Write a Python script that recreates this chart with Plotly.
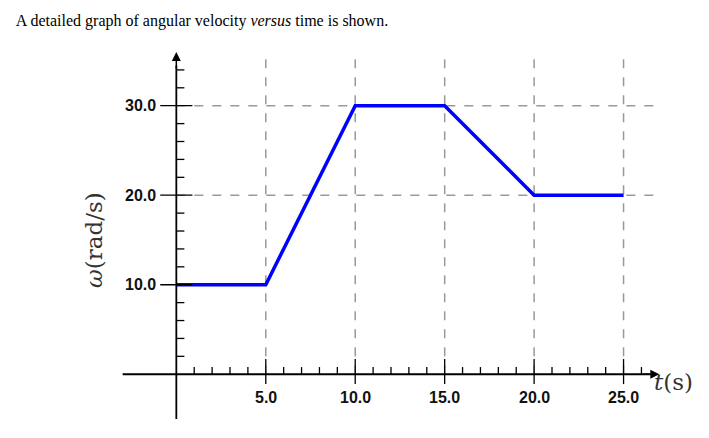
import plotly.graph_objects as go

# data
t = [0, 5, 10, 15, 20, 25]
w = [10, 10, 30, 30, 20, 20]
x_labels = [5, 10, 15, 20, 25]
y_labels = [10, 20, 30]

fig = go.Figure()
fig.add_trace(go.Scatter(x=t, y=w, mode='lines', line=dict(color='#0000ff', width=3.5),
                         showlegend=False, hoverinfo='skip'))

shapes = []
grey = dict(color='#999999', width=1.5, dash='dash')
for xv in x_labels:
    shapes.append(dict(type='line', x0=xv, x1=xv, y0=0, y1=36, line=grey, layer='below'))
for yv in [20, 30]:
    shapes.append(dict(type='line', x0=0, x1=27, y0=yv, y1=yv, line=grey, layer='below'))

blk = dict(color='black', width=1.3)
# x ticks
for i in range(1, 27):
    big = i % 5 == 0
    shapes.append(dict(type='line', x0=i, x1=i, y0=-1.1 if big else 0, y1=1.7 if big else 0.8, line=blk))
# y ticks
for j in range(2, 35, 2):
    big = j % 10 == 0
    shapes.append(dict(type='line', y0=j, y1=j, x0=-0.9 if big else 0, x1=0.9 if big else 0.45, line=blk))
# axes
shapes.append(dict(type='line', x0=-3, x1=26.5, y0=0, y1=0, line=dict(color='black', width=1.8)))
shapes.append(dict(type='line', x0=0, x1=0, y0=-5, y1=34.5, line=dict(color='black', width=1.8)))

ann = []
ann.append(dict(x=27, y=0, ax=26, ay=0, xref='x', yref='y', axref='x', ayref='y', text='',
                showarrow=True, arrowhead=2, arrowsize=1.2, arrowwidth=1.5, arrowcolor='black'))
ann.append(dict(x=0, y=36, ax=0, ay=34, xref='x', yref='y', axref='x', ayref='y', text='',
                showarrow=True, arrowhead=2, arrowsize=1.2, arrowwidth=1.5, arrowcolor='black'))
for xv in x_labels:
    ann.append(dict(x=xv, y=-1.4, text='<b>%.1f</b>' % xv, showarrow=False, yanchor='top',
                    font=dict(family='Liberation Sans', size=16, color='#111')))
for yv in y_labels:
    ann.append(dict(x=-1.0, y=yv, text='<b>%.1f</b>' % yv, showarrow=False, xanchor='right',
                    font=dict(family='Liberation Sans', size=16, color='#111')))
ann.append(dict(x=26.6, y=-0.9, text='<i>t</i>(s)', showarrow=False, xanchor='left', yanchor='middle',
                font=dict(family='DejaVu Serif', size=23, color='#333')))
ann.append(dict(x=-4.6, y=15, text='<i>ω</i>(rad/s)', showarrow=False, textangle=-90,
                font=dict(family='DejaVu Serif', size=23, color='#333')))

fig.update_layout(
    width=709, height=438,
    margin=dict(l=61, r=4, t=44, b=27),
    plot_bgcolor='white', paper_bgcolor='white',
    xaxis=dict(range=[-6, 30], visible=False, fixedrange=True),
    yaxis=dict(range=[-5, 36], visible=False, fixedrange=True),
    shapes=shapes, annotations=ann,
    title=dict(text='A detailed graph of angular velocity <i>versus</i> time is shown.',
               x=0.011, xanchor='left', y=0.985, yanchor='top',
               font=dict(family='Liberation Serif', size=16, color='black')),
)

fig.write_html("out.html")
